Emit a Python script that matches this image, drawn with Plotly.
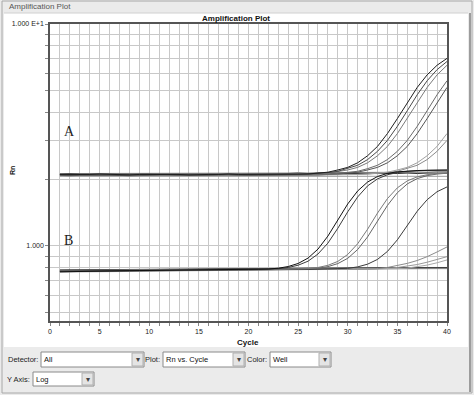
import plotly.graph_objects as go

# ---------------- data ----------------
CYCLES = list(range(1, 41))

A1 = [2.10, 2.10, 2.09, 2.10, 2.11, 2.10, 2.10, 2.09, 2.10, 2.10,
      2.11, 2.10, 2.10, 2.09, 2.10, 2.10, 2.10, 2.11, 2.10, 2.10,
      2.10, 2.10, 2.10, 2.11, 2.11, 2.11, 2.13, 2.15, 2.20, 2.26,
      2.37, 2.55, 2.81, 3.21, 3.75, 4.43, 5.18, 5.90, 6.52, 7.00]
A2 = [2.09, 2.08, 2.09, 2.09, 2.10, 2.09, 2.08, 2.09, 2.09, 2.09,
      2.10, 2.09, 2.09, 2.08, 2.09, 2.09, 2.10, 2.09, 2.09, 2.09,
      2.09, 2.09, 2.10, 2.09, 2.10, 2.11, 2.12, 2.14, 2.17, 2.23,
      2.31, 2.45, 2.67, 2.99, 3.46, 4.07, 4.80, 5.55, 6.23, 6.78]
A3 = [2.11, 2.10, 2.11, 2.11, 2.10, 2.11, 2.11, 2.12, 2.11, 2.10,
      2.11, 2.11, 2.10, 2.11, 2.11, 2.11, 2.12, 2.11, 2.11, 2.10,
      2.11, 2.11, 2.11, 2.10, 2.11, 2.11, 2.11, 2.13, 2.16, 2.20,
      2.26, 2.37, 2.55, 2.81, 3.21, 3.75, 4.43, 5.18, 5.90, 6.52]
A4 = [2.08, 2.07, 2.08, 2.08, 2.09, 2.08, 2.08, 2.07, 2.08, 2.08,
      2.08, 2.09, 2.08, 2.08, 2.07, 2.08, 2.08, 2.09, 2.08, 2.08,
      2.08, 2.08, 2.09, 2.08, 2.08, 2.09, 2.09, 2.10, 2.12, 2.14,
      2.17, 2.23, 2.31, 2.45, 2.67, 2.99, 3.46, 4.07, 4.80, 5.55]
A5 = [2.10, 2.11, 2.10, 2.10, 2.10, 2.09, 2.10, 2.10, 2.11, 2.10,
      2.10, 2.10, 2.09, 2.10, 2.10, 2.11, 2.10, 2.10, 2.10, 2.09,
      2.10, 2.10, 2.10, 2.11, 2.10, 2.10, 2.10, 2.10, 2.11, 2.13,
      2.15, 2.20, 2.26, 2.37, 2.55, 2.81, 3.21, 3.75, 4.43, 5.18]
A6 = [2.07, 2.08, 2.07, 2.07, 2.08, 2.07, 2.07, 2.08, 2.07, 2.07,
      2.08, 2.07, 2.07, 2.07, 2.08, 2.07, 2.08, 2.07, 2.07, 2.08,
      2.07, 2.08, 2.08, 2.07, 2.08, 2.08, 2.08, 2.09, 2.09, 2.09,
      2.10, 2.11, 2.13, 2.15, 2.20, 2.26, 2.37, 2.55, 2.81, 3.21]
A7 = [2.09, 2.09, 2.10, 2.09, 2.09, 2.09, 2.10, 2.09, 2.09, 2.09,
      2.10, 2.09, 2.09, 2.09, 2.09, 2.10, 2.09, 2.09, 2.10, 2.09,
      2.09, 2.09, 2.10, 2.09, 2.09, 2.10, 2.09, 2.10, 2.10, 2.10,
      2.10, 2.11, 2.12, 2.14, 2.17, 2.23, 2.31, 2.45, 2.67, 2.99]
A8 = [2.10, 2.11, 2.10, 2.10, 2.11, 2.11, 2.10, 2.10, 2.11, 2.10,
      2.11, 2.11, 2.10, 2.11, 2.10, 2.11, 2.11, 2.10, 2.11, 2.11,
      2.11, 2.10, 2.11, 2.11, 2.11, 2.12, 2.11, 2.11, 2.12, 2.12,
      2.12, 2.11, 2.12, 2.12, 2.12, 2.13, 2.12, 2.13, 2.13, 2.13]
A9 = [2.06, 2.06, 2.05, 2.06, 2.06, 2.06, 2.05, 2.06, 2.06, 2.06,
      2.06, 2.05, 2.06, 2.06, 2.06, 2.06, 2.05, 2.06, 2.06, 2.06,
      2.06, 2.06, 2.06, 2.05, 2.06, 2.06, 2.06, 2.06, 2.05, 2.06,
      2.06, 2.06, 2.06, 2.06, 2.05, 2.06, 2.06, 2.06, 2.06, 2.06]
A10 = [2.12, 2.12, 2.13, 2.12, 2.12, 2.12, 2.13, 2.12, 2.12, 2.13,
       2.12, 2.12, 2.13, 2.12, 2.13, 2.12, 2.13, 2.13, 2.12, 2.13,
       2.13, 2.13, 2.13, 2.13, 2.14, 2.13, 2.14, 2.14, 2.14, 2.14,
       2.14, 2.14, 2.15, 2.14, 2.15, 2.15, 2.15, 2.15, 2.16, 2.16]

B1 = [0.765, 0.767, 0.768, 0.770, 0.771, 0.772, 0.773, 0.774, 0.775, 0.776,
      0.777, 0.778, 0.779, 0.780, 0.780, 0.781, 0.782, 0.783, 0.783, 0.784,
      0.785, 0.787, 0.794, 0.808, 0.834, 0.882, 0.968, 1.108, 1.309, 1.547,
      1.770, 1.941, 2.056, 2.123, 2.158, 2.177, 2.187, 2.193, 2.196, 2.198]
B2 = [0.770, 0.771, 0.772, 0.773, 0.774, 0.775, 0.775, 0.776, 0.777, 0.778,
      0.778, 0.779, 0.780, 0.780, 0.781, 0.782, 0.782, 0.783, 0.783, 0.784,
      0.784, 0.785, 0.790, 0.800, 0.819, 0.854, 0.920, 1.030, 1.202, 1.426,
      1.663, 1.865, 2.006, 2.094, 2.142, 2.169, 2.183, 2.190, 2.194, 2.196]
B3 = [0.768, 0.769, 0.770, 0.771, 0.772, 0.773, 0.774, 0.775, 0.776, 0.777,
      0.777, 0.778, 0.779, 0.779, 0.780, 0.781, 0.781, 0.782, 0.782, 0.783,
      0.783, 0.784, 0.784, 0.785, 0.785, 0.790, 0.800, 0.818, 0.852, 0.916,
      1.024, 1.190, 1.407, 1.635, 1.828, 1.965, 2.048, 2.094, 2.120, 2.133]
B4 = [0.772, 0.773, 0.774, 0.775, 0.776, 0.776, 0.777, 0.778, 0.778, 0.779,
      0.780, 0.780, 0.781, 0.781, 0.782, 0.782, 0.783, 0.783, 0.784, 0.784,
      0.785, 0.785, 0.785, 0.786, 0.786, 0.787, 0.794, 0.807, 0.833, 0.880,
      0.964, 1.099, 1.294, 1.523, 1.738, 1.904, 2.011, 2.075, 2.109, 2.127]
B5 = [0.766, 0.767, 0.768, 0.769, 0.770, 0.771, 0.772, 0.773, 0.774, 0.775,
      0.776, 0.776, 0.777, 0.778, 0.778, 0.779, 0.780, 0.780, 0.781, 0.781,
      0.782, 0.782, 0.783, 0.783, 0.784, 0.784, 0.785, 0.785, 0.786, 0.793,
      0.805, 0.828, 0.870, 0.945, 1.066, 1.236, 1.434, 1.616, 1.756, 1.845]
B6 = [0.770, 0.771, 0.772, 0.773, 0.774, 0.775, 0.775, 0.776, 0.777, 0.777,
      0.778, 0.779, 0.779, 0.780, 0.780, 0.781, 0.781, 0.782, 0.782, 0.783,
      0.783, 0.784, 0.784, 0.785, 0.785, 0.785, 0.786, 0.786, 0.787, 0.787,
      0.787, 0.788, 0.790, 0.800, 0.815, 0.835, 0.860, 0.895, 0.940, 0.990]
B7 = [0.775, 0.776, 0.776, 0.777, 0.778, 0.778, 0.779, 0.779, 0.780, 0.780,
      0.781, 0.781, 0.782, 0.782, 0.783, 0.783, 0.784, 0.784, 0.785, 0.785,
      0.786, 0.786, 0.786, 0.787, 0.787, 0.788, 0.788, 0.788, 0.789, 0.789,
      0.789, 0.790, 0.790, 0.790, 0.791, 0.795, 0.805, 0.820, 0.840, 0.865]
B8 = [0.768, 0.769, 0.770, 0.771, 0.772, 0.772, 0.773, 0.774, 0.774, 0.775,
      0.776, 0.776, 0.777, 0.777, 0.778, 0.778, 0.779, 0.779, 0.780, 0.780,
      0.781, 0.781, 0.782, 0.782, 0.783, 0.783, 0.784, 0.784, 0.785, 0.785,
      0.786, 0.786, 0.787, 0.792, 0.800, 0.810, 0.825, 0.845, 0.868, 0.895]
B9 = [0.780, 0.781, 0.781, 0.782, 0.782, 0.783, 0.783, 0.784, 0.784, 0.785,
      0.785, 0.786, 0.786, 0.787, 0.787, 0.788, 0.788, 0.789, 0.789, 0.790,
      0.790, 0.791, 0.791, 0.792, 0.792, 0.793, 0.793, 0.794, 0.794, 0.794,
      0.795, 0.795, 0.795, 0.796, 0.796, 0.796, 0.797, 0.797, 0.797, 0.797]
B10 = [0.776, 0.777, 0.778, 0.779, 0.780, 0.780, 0.781, 0.782, 0.783, 0.784,
       0.784, 0.785, 0.786, 0.787, 0.787, 0.788, 0.789, 0.790, 0.790, 0.791,
       0.792, 0.792, 0.793, 0.794, 0.794, 0.795, 0.795, 0.796, 0.796, 0.797,
       0.797, 0.798, 0.798, 0.798, 0.799, 0.799, 0.799, 0.800, 0.800, 0.800]
B11 = [0.762, 0.763, 0.764, 0.765, 0.766, 0.767, 0.768, 0.769, 0.770, 0.771,
       0.772, 0.772, 0.773, 0.774, 0.775, 0.776, 0.776, 0.777, 0.778, 0.779,
       0.779, 0.780, 0.781, 0.781, 0.782, 0.783, 0.783, 0.784, 0.785, 0.785,
       0.786, 0.786, 0.787, 0.787, 0.788, 0.788, 0.789, 0.789, 0.790, 0.790]

SERIES = [
    ("A9", A9, "#9a9a9a"), ("A10", A10, "#777777"), ("A8", A8, "#333333"),
    ("A7", A7, "#8a8a8a"), ("A6", A6, "#a0a0a0"), ("A5", A5, "#555555"),
    ("A4", A4, "#6a6a6a"), ("A3", A3, "#7a7a7a"), ("A2", A2, "#4a4a4a"),
    ("A1", A1, "#1e1e1e"),
    ("B11", B11, "#b0b0b0"), ("B10", B10, "#666666"), ("B9", B9, "#2a2a2a"),
    ("B8", B8, "#9a9a9a"), ("B7", B7, "#aaaaaa"), ("B6", B6, "#8c8c8c"),
    ("B5", B5, "#3a3a3a"), ("B4", B4, "#666666"), ("B3", B3, "#7a7a7a"),
    ("B2", B2, "#3c3c3c"), ("B1", B1, "#111111"),
]

X_TICKS = list(range(0, 41))
X_TICK_TEXT = [str(v) if v % 5 == 0 else "" for v in X_TICKS]
Y_TICKS = [0.5, 0.6, 0.7, 0.8, 0.9, 1, 2, 3, 4, 5, 6, 7, 8, 9, 10]
Y_TICK_TEXT = ["", "", "", "", "", "1.000", "", "", "", "", "", "", "", "", "1.000 E+1"]

# ---------------- figure geometry ----------------
W, H = 474, 395
ML, MR, MT, MB = 50, 27, 24, 74
PW, PH = W - ML - MR, H - MT - MB


def X(px):
    return (px - ML) / PW


def Y(py):
    return (H - MB - py) / PH


fig = go.Figure()
for name, vals, col in SERIES:
    fig.add_trace(go.Scatter(x=CYCLES, y=vals, mode="lines", name=name,
                             line=dict(color=col, width=1), hoverinfo="skip"))

FONT = "Liberation Sans"
shapes = []
annotations = []

# window frame pieces
shapes.append(dict(type="rect", xref="paper", yref="paper", layer="below",
                   x0=X(4), x1=X(468), y0=Y(13), y1=Y(347),
                   fillcolor="white", line=dict(width=0)))
shapes.append(dict(type="line", xref="paper", yref="paper",
                   x0=X(4), x1=X(468), y0=Y(13), y1=Y(13),
                   line=dict(color="#d0d0d0", width=1)))
shapes.append(dict(type="line", xref="paper", yref="paper",
                   x0=X(470), x1=X(470), y0=Y(13), y1=Y(392),
                   line=dict(color="#9c9c9c", width=2)))
shapes.append(dict(type="rect", xref="paper", yref="paper",
                   x0=X(2), x1=X(472), y0=Y(1), y1=Y(393),
                   fillcolor="rgba(0,0,0,0)", line=dict(color="#a8a8a8", width=1)))

annotations.append(dict(text="Amplification Plot", xref="paper", yref="paper",
                        x=X(7), y=Y(7), xanchor="left", yanchor="middle", showarrow=False,
                        font=dict(family=FONT, size=8, color="#555555")))
annotations.append(dict(text="<b>Amplification Plot</b>", xref="paper", yref="paper",
                        x=X(236), y=Y(18), xanchor="center", yanchor="middle", showarrow=False,
                        font=dict(family=FONT, size=8, color="#111111")))
annotations.append(dict(text="<b>Cycle</b>", xref="paper", yref="paper",
                        x=X(248), y=Y(343), xanchor="center", yanchor="middle", showarrow=False,
                        font=dict(family=FONT, size=8, color="#111111")))
annotations.append(dict(text="<b>Rn</b>", xref="paper", yref="paper", textangle=-90,
                        x=X(12), y=Y(171), xanchor="center", yanchor="middle", showarrow=False,
                        font=dict(family=FONT, size=7, color="#111111")))
annotations.append(dict(text="A", xref="paper", yref="paper",
                        x=X(62), y=Y(131), xanchor="left", yanchor="middle", showarrow=False,
                        font=dict(family="Liberation Serif", size=14, color="#222222")))
annotations.append(dict(text="B", xref="paper", yref="paper",
                        x=X(62), y=Y(240), xanchor="left", yanchor="middle", showarrow=False,
                        font=dict(family="Liberation Serif", size=14, color="#222222")))

# control bar: labels and dropdown boxes
CONTROLS = [
    ("Detector:", "All", 41, 144, 352, 367),
    ("Plot:", "Rn vs. Cycle", 163, 245, 352, 367),
    ("Color:", "Well", 270, 331, 352, 367),
    ("Y Axis:", "Log", 33, 94, 372, 386),
]
for label, value, bx0, bx1, by0, by1 in CONTROLS:
    ym = (by0 + by1) / 2
    annotations.append(dict(text=label, xref="paper", yref="paper",
                            x=X(bx0 - 1), y=Y(ym), xanchor="right", yanchor="middle",
                            showarrow=False, xshift=0,
                            font=dict(family=FONT, size=7.5, color="#222222")))
    shapes.append(dict(type="rect", xref="paper", yref="paper",
                       x0=X(bx0), x1=X(bx1), y0=Y(by0), y1=Y(by1),
                       fillcolor="white", line=dict(color="#8a8a8a", width=1)))
    shapes.append(dict(type="rect", xref="paper", yref="paper",
                       x0=X(bx1 - 12), x1=X(bx1 - 1), y0=Y(by0 + 1), y1=Y(by1 - 1),
                       fillcolor="#e4e4e4", line=dict(color="#b0b0b0", width=1)))
    annotations.append(dict(text="▾", xref="paper", yref="paper",
                            x=X(bx1 - 6.5), y=Y(ym), xanchor="center", yanchor="middle",
                            showarrow=False, font=dict(family="DejaVu Sans", size=8, color="#444444")))
    annotations.append(dict(text=value, xref="paper", yref="paper",
                            x=X(bx0 + 1), y=Y(ym), xanchor="left", yanchor="middle", showarrow=False,
                            font=dict(family=FONT, size=7.5, color="#111111")))

fig.update_layout(
    width=W, height=H,
    margin=dict(l=ML, r=MR, t=MT, b=MB, pad=0),
    paper_bgcolor="#ebebeb",
    plot_bgcolor="white",
    showlegend=False,
    shapes=shapes,
    annotations=annotations,
    xaxis=dict(range=[0, 40], tickmode="array", tickvals=X_TICKS, ticktext=X_TICK_TEXT,
               showgrid=True, gridcolor="#c8c8c8", gridwidth=1, zeroline=False,
               ticks="outside", ticklen=3, tickcolor="#888888",
               showline=True, linecolor="#555555", linewidth=1.5, mirror=True,
               tickfont=dict(family=FONT, size=7, color="#222222")),
    yaxis=dict(type="log", range=[-0.338, 1.0], tickmode="array", tickvals=Y_TICKS,
               ticktext=Y_TICK_TEXT, showgrid=True, gridcolor="#c8c8c8", gridwidth=1,
               zeroline=False, ticks="outside", ticklen=3, tickcolor="#888888",
               showline=True, linecolor="#555555", linewidth=1.5, mirror=True,
               tickfont=dict(family=FONT, size=7, color="#222222")),
)

fig.write_html(
    "out.html",
    config={"displayModeBar": False},
    post_script="document.body.style.margin='0';document.body.style.overflow='hidden';",
)
